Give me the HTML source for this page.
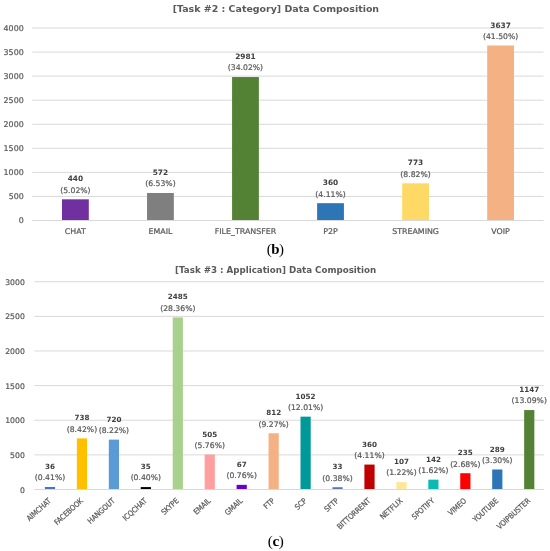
<!DOCTYPE html>
<html><head><meta charset="utf-8"><title>Data Composition</title>
<style>
html,body{margin:0;padding:0;background:#fff;}
svg{display:block;font-family:"DejaVu Sans","Liberation Sans",sans-serif;}
.ser{font-family:"Liberation Serif",serif;}
.cond{font-family:"DejaVu Sans Condensed","DejaVu Sans","Liberation Sans",sans-serif;}
</style></head><body>
<svg width="550" height="551" viewBox="0 0 550 551">
<rect width="550" height="551" fill="#fff"/>
<text x="275.90" y="11.90" font-size="9.45" text-anchor="middle" fill="#595959" font-weight="bold">[Task #2 : Category] Data Composition</text>
<line x1="32.3" x2="543.6" y1="220.50" y2="220.50" stroke="#d9d9d9" stroke-width="1"/>
<text x="23.70" y="223.40" font-size="7.9" text-anchor="end" fill="#595959" stroke="#595959" stroke-width="0.22">0</text>
<line x1="32.3" x2="543.6" y1="196.44" y2="196.44" stroke="#d9d9d9" stroke-width="1"/>
<text x="23.70" y="199.34" font-size="7.9" text-anchor="end" fill="#595959" stroke="#595959" stroke-width="0.22">500</text>
<line x1="32.3" x2="543.6" y1="172.38" y2="172.38" stroke="#d9d9d9" stroke-width="1"/>
<text x="23.70" y="175.28" font-size="7.9" text-anchor="end" fill="#595959" stroke="#595959" stroke-width="0.22">1000</text>
<line x1="32.3" x2="543.6" y1="148.32" y2="148.32" stroke="#d9d9d9" stroke-width="1"/>
<text x="23.70" y="151.22" font-size="7.9" text-anchor="end" fill="#595959" stroke="#595959" stroke-width="0.22">1500</text>
<line x1="32.3" x2="543.6" y1="124.26" y2="124.26" stroke="#d9d9d9" stroke-width="1"/>
<text x="23.70" y="127.16" font-size="7.9" text-anchor="end" fill="#595959" stroke="#595959" stroke-width="0.22">2000</text>
<line x1="32.3" x2="543.6" y1="100.20" y2="100.20" stroke="#d9d9d9" stroke-width="1"/>
<text x="23.70" y="103.10" font-size="7.9" text-anchor="end" fill="#595959" stroke="#595959" stroke-width="0.22">2500</text>
<line x1="32.3" x2="543.6" y1="76.14" y2="76.14" stroke="#d9d9d9" stroke-width="1"/>
<text x="23.70" y="79.04" font-size="7.9" text-anchor="end" fill="#595959" stroke="#595959" stroke-width="0.22">3000</text>
<line x1="32.3" x2="543.6" y1="52.08" y2="52.08" stroke="#d9d9d9" stroke-width="1"/>
<text x="23.70" y="54.98" font-size="7.9" text-anchor="end" fill="#595959" stroke="#595959" stroke-width="0.22">3500</text>
<line x1="32.3" x2="543.6" y1="28.02" y2="28.02" stroke="#d9d9d9" stroke-width="1"/>
<text x="23.70" y="30.92" font-size="7.9" text-anchor="end" fill="#595959" stroke="#595959" stroke-width="0.22">4000</text>
<rect x="62.00" y="199.33" width="26.8" height="20.67" fill="#7030A0"/>
<text x="75.40" y="181.43" font-size="7.4" text-anchor="middle" fill="#404040" font-weight="bold">440</text>
<text x="75.40" y="192.73" font-size="7.7" text-anchor="middle" fill="#595959" stroke="#595959" stroke-width="0.22">(5.02%)</text>
<text x="75.40" y="234.40" font-size="7.9" text-anchor="middle" fill="#595959" stroke="#595959" stroke-width="0.22">CHAT</text>
<rect x="147.04" y="192.98" width="26.8" height="27.02" fill="#7F7F7F"/>
<text x="160.44" y="175.08" font-size="7.4" text-anchor="middle" fill="#404040" font-weight="bold">572</text>
<text x="160.44" y="186.38" font-size="7.7" text-anchor="middle" fill="#595959" stroke="#595959" stroke-width="0.22">(6.53%)</text>
<text x="160.44" y="234.40" font-size="7.9" text-anchor="middle" fill="#595959" stroke="#595959" stroke-width="0.22">EMAIL</text>
<rect x="232.08" y="77.05" width="26.8" height="142.95" fill="#548235"/>
<text x="245.48" y="59.15" font-size="7.4" text-anchor="middle" fill="#404040" font-weight="bold">2981</text>
<text x="245.48" y="70.45" font-size="7.7" text-anchor="middle" fill="#595959" stroke="#595959" stroke-width="0.22">(34.02%)</text>
<text x="245.48" y="234.40" font-size="7.9" text-anchor="middle" fill="#595959" stroke="#595959" stroke-width="0.22">FILE_TRANSFER</text>
<rect x="317.12" y="203.18" width="26.8" height="16.82" fill="#2E75B6"/>
<text x="330.52" y="185.28" font-size="7.4" text-anchor="middle" fill="#404040" font-weight="bold">360</text>
<text x="330.52" y="196.58" font-size="7.7" text-anchor="middle" fill="#595959" stroke="#595959" stroke-width="0.22">(4.11%)</text>
<text x="330.52" y="234.40" font-size="7.9" text-anchor="middle" fill="#595959" stroke="#595959" stroke-width="0.22">P2P</text>
<rect x="402.16" y="183.30" width="26.8" height="36.70" fill="#FFD966"/>
<text x="415.56" y="165.40" font-size="7.4" text-anchor="middle" fill="#404040" font-weight="bold">773</text>
<text x="415.56" y="176.70" font-size="7.7" text-anchor="middle" fill="#595959" stroke="#595959" stroke-width="0.22">(8.82%)</text>
<text x="415.56" y="234.40" font-size="7.9" text-anchor="middle" fill="#595959" stroke="#595959" stroke-width="0.22">STREAMING</text>
<rect x="487.20" y="45.49" width="26.8" height="174.51" fill="#F4B183"/>
<text x="500.60" y="27.59" font-size="7.4" text-anchor="middle" fill="#404040" font-weight="bold">3637</text>
<text x="500.60" y="38.89" font-size="7.7" text-anchor="middle" fill="#595959" stroke="#595959" stroke-width="0.22">(41.50%)</text>
<text x="500.60" y="234.40" font-size="7.9" text-anchor="middle" fill="#595959" stroke="#595959" stroke-width="0.22">VOIP</text>
<text x="275.20" y="254.30" font-size="14.9" text-anchor="middle" fill="#000" class="ser" letter-spacing="-0.5">(<tspan font-weight="bold">b</tspan>)</text>
<text x="275.60" y="272.50" font-size="8.7" text-anchor="middle" fill="#595959" font-weight="bold">[Task #3 : Application] Data Composition</text>
<line x1="34.3" x2="544.1" y1="489.50" y2="489.50" stroke="#d9d9d9" stroke-width="1"/>
<text x="24.80" y="492.60" font-size="7.7" text-anchor="end" fill="#595959" stroke="#595959" stroke-width="0.22">0</text>
<line x1="34.3" x2="544.1" y1="454.87" y2="454.87" stroke="#d9d9d9" stroke-width="1"/>
<text x="24.80" y="457.97" font-size="7.7" text-anchor="end" fill="#595959" stroke="#595959" stroke-width="0.22">500</text>
<line x1="34.3" x2="544.1" y1="420.24" y2="420.24" stroke="#d9d9d9" stroke-width="1"/>
<text x="24.80" y="423.34" font-size="7.7" text-anchor="end" fill="#595959" stroke="#595959" stroke-width="0.22">1000</text>
<line x1="34.3" x2="544.1" y1="385.61" y2="385.61" stroke="#d9d9d9" stroke-width="1"/>
<text x="24.80" y="388.71" font-size="7.7" text-anchor="end" fill="#595959" stroke="#595959" stroke-width="0.22">1500</text>
<line x1="34.3" x2="544.1" y1="350.98" y2="350.98" stroke="#d9d9d9" stroke-width="1"/>
<text x="24.80" y="354.08" font-size="7.7" text-anchor="end" fill="#595959" stroke="#595959" stroke-width="0.22">2000</text>
<line x1="34.3" x2="544.1" y1="316.35" y2="316.35" stroke="#d9d9d9" stroke-width="1"/>
<text x="24.80" y="319.45" font-size="7.7" text-anchor="end" fill="#595959" stroke="#595959" stroke-width="0.22">2500</text>
<line x1="34.3" x2="544.1" y1="281.72" y2="281.72" stroke="#d9d9d9" stroke-width="1"/>
<text x="24.80" y="284.82" font-size="7.7" text-anchor="end" fill="#595959" stroke="#595959" stroke-width="0.22">3000</text>
<rect x="44.90" y="487.01" width="10.2" height="1.99" fill="#4472C4"/>
<text x="50.00" y="469.11" font-size="7.2" text-anchor="middle" fill="#404040" font-weight="bold">36</text>
<text x="50.00" y="480.41" font-size="7.7" text-anchor="middle" fill="#595959" stroke="#595959" stroke-width="0.22">(0.41%)</text>
<text x="0.00" y="0.00" font-size="7.7" text-anchor="end" fill="#595959" stroke="#595959" stroke-width="0.22" class="cond" transform="translate(51.60,501.50) rotate(-42.3) scale(0.96,1)">AIMCHAT</text>
<rect x="76.85" y="438.39" width="10.2" height="50.61" fill="#FFC000"/>
<text x="81.95" y="420.49" font-size="7.2" text-anchor="middle" fill="#404040" font-weight="bold">738</text>
<text x="81.95" y="431.79" font-size="7.7" text-anchor="middle" fill="#595959" stroke="#595959" stroke-width="0.22">(8.42%)</text>
<text x="0.00" y="0.00" font-size="7.7" text-anchor="end" fill="#595959" stroke="#595959" stroke-width="0.22" class="cond" transform="translate(83.55,501.50) rotate(-42.3) scale(0.96,1)">FACEBOOK</text>
<rect x="108.80" y="439.63" width="10.2" height="49.37" fill="#5B9BD5"/>
<text x="113.90" y="421.73" font-size="7.2" text-anchor="middle" fill="#404040" font-weight="bold">720</text>
<text x="113.90" y="433.03" font-size="7.7" text-anchor="middle" fill="#595959" stroke="#595959" stroke-width="0.22">(8.22%)</text>
<text x="0.00" y="0.00" font-size="7.7" text-anchor="end" fill="#595959" stroke="#595959" stroke-width="0.22" class="cond" transform="translate(115.50,501.50) rotate(-42.3) scale(0.96,1)">HANGOUT</text>
<rect x="140.75" y="487.08" width="10.2" height="1.92" fill="#000000"/>
<text x="145.85" y="469.18" font-size="7.2" text-anchor="middle" fill="#404040" font-weight="bold">35</text>
<text x="145.85" y="480.48" font-size="7.7" text-anchor="middle" fill="#595959" stroke="#595959" stroke-width="0.22">(0.40%)</text>
<text x="0.00" y="0.00" font-size="7.7" text-anchor="end" fill="#595959" stroke="#595959" stroke-width="0.22" class="cond" transform="translate(147.45,501.50) rotate(-42.3) scale(0.96,1)">ICQCHAT</text>
<rect x="172.70" y="317.39" width="10.2" height="171.61" fill="#A9D18E"/>
<text x="177.80" y="299.49" font-size="7.2" text-anchor="middle" fill="#404040" font-weight="bold">2485</text>
<text x="177.80" y="310.79" font-size="7.7" text-anchor="middle" fill="#595959" stroke="#595959" stroke-width="0.22">(28.36%)</text>
<text x="0.00" y="0.00" font-size="7.7" text-anchor="end" fill="#595959" stroke="#595959" stroke-width="0.22" class="cond" transform="translate(179.40,501.50) rotate(-42.3) scale(0.96,1)">SKYPE</text>
<rect x="204.65" y="454.52" width="10.2" height="34.48" fill="#FF9F9F"/>
<text x="209.75" y="436.62" font-size="7.2" text-anchor="middle" fill="#404040" font-weight="bold">505</text>
<text x="209.75" y="447.92" font-size="7.7" text-anchor="middle" fill="#595959" stroke="#595959" stroke-width="0.22">(5.76%)</text>
<text x="0.00" y="0.00" font-size="7.7" text-anchor="end" fill="#595959" stroke="#595959" stroke-width="0.22" class="cond" transform="translate(211.35,501.50) rotate(-42.3) scale(0.96,1)">EMAIL</text>
<rect x="236.60" y="484.86" width="10.2" height="4.14" fill="#6600CC"/>
<text x="241.70" y="466.96" font-size="7.2" text-anchor="middle" fill="#404040" font-weight="bold">67</text>
<text x="241.70" y="478.26" font-size="7.7" text-anchor="middle" fill="#595959" stroke="#595959" stroke-width="0.22">(0.76%)</text>
<text x="0.00" y="0.00" font-size="7.7" text-anchor="end" fill="#595959" stroke="#595959" stroke-width="0.22" class="cond" transform="translate(243.30,501.50) rotate(-42.3) scale(0.96,1)">GMAIL</text>
<rect x="268.55" y="433.26" width="10.2" height="55.74" fill="#F4B183"/>
<text x="273.65" y="415.36" font-size="7.2" text-anchor="middle" fill="#404040" font-weight="bold">812</text>
<text x="273.65" y="426.66" font-size="7.7" text-anchor="middle" fill="#595959" stroke="#595959" stroke-width="0.22">(9.27%)</text>
<text x="0.00" y="0.00" font-size="7.7" text-anchor="end" fill="#595959" stroke="#595959" stroke-width="0.22" class="cond" transform="translate(275.25,501.50) rotate(-42.3) scale(0.96,1)">FTP</text>
<rect x="300.50" y="416.64" width="10.2" height="72.36" fill="#009999"/>
<text x="305.60" y="398.74" font-size="7.2" text-anchor="middle" fill="#404040" font-weight="bold">1052</text>
<text x="305.60" y="410.04" font-size="7.7" text-anchor="middle" fill="#595959" stroke="#595959" stroke-width="0.22">(12.01%)</text>
<text x="0.00" y="0.00" font-size="7.7" text-anchor="end" fill="#595959" stroke="#595959" stroke-width="0.22" class="cond" transform="translate(307.20,501.50) rotate(-42.3) scale(0.96,1)">SCP</text>
<rect x="332.45" y="487.21" width="10.2" height="1.79" fill="#5A78B0"/>
<text x="337.55" y="469.31" font-size="7.2" text-anchor="middle" fill="#404040" font-weight="bold">33</text>
<text x="337.55" y="480.61" font-size="7.7" text-anchor="middle" fill="#595959" stroke="#595959" stroke-width="0.22">(0.38%)</text>
<text x="0.00" y="0.00" font-size="7.7" text-anchor="end" fill="#595959" stroke="#595959" stroke-width="0.22" class="cond" transform="translate(339.15,501.50) rotate(-42.3) scale(0.96,1)">SFTP</text>
<rect x="364.40" y="464.57" width="10.2" height="24.43" fill="#C00000"/>
<text x="369.50" y="446.67" font-size="7.2" text-anchor="middle" fill="#404040" font-weight="bold">360</text>
<text x="369.50" y="457.97" font-size="7.7" text-anchor="middle" fill="#595959" stroke="#595959" stroke-width="0.22">(4.11%)</text>
<text x="0.00" y="0.00" font-size="7.7" text-anchor="end" fill="#595959" stroke="#595959" stroke-width="0.22" class="cond" transform="translate(371.10,501.50) rotate(-42.3) scale(0.96,1)">BITTORRENT</text>
<rect x="396.35" y="482.09" width="10.2" height="6.91" fill="#FFE699"/>
<text x="401.45" y="464.19" font-size="7.2" text-anchor="middle" fill="#404040" font-weight="bold">107</text>
<text x="401.45" y="475.49" font-size="7.7" text-anchor="middle" fill="#595959" stroke="#595959" stroke-width="0.22">(1.22%)</text>
<text x="0.00" y="0.00" font-size="7.7" text-anchor="end" fill="#595959" stroke="#595959" stroke-width="0.22" class="cond" transform="translate(403.05,501.50) rotate(-42.3) scale(0.96,1)">NETFLIX</text>
<rect x="428.30" y="479.67" width="10.2" height="9.33" fill="#0CBAB4"/>
<text x="433.40" y="461.77" font-size="7.2" text-anchor="middle" fill="#404040" font-weight="bold">142</text>
<text x="433.40" y="473.07" font-size="7.7" text-anchor="middle" fill="#595959" stroke="#595959" stroke-width="0.22">(1.62%)</text>
<text x="0.00" y="0.00" font-size="7.7" text-anchor="end" fill="#595959" stroke="#595959" stroke-width="0.22" class="cond" transform="translate(435.00,501.50) rotate(-42.3) scale(0.96,1)">SPOTIFY</text>
<rect x="460.25" y="473.22" width="10.2" height="15.78" fill="#FF0000"/>
<text x="465.35" y="455.32" font-size="7.2" text-anchor="middle" fill="#404040" font-weight="bold">235</text>
<text x="465.35" y="466.62" font-size="7.7" text-anchor="middle" fill="#595959" stroke="#595959" stroke-width="0.22">(2.68%)</text>
<text x="0.00" y="0.00" font-size="7.7" text-anchor="end" fill="#595959" stroke="#595959" stroke-width="0.22" class="cond" transform="translate(466.95,501.50) rotate(-42.3) scale(0.96,1)">VIMEO</text>
<rect x="492.20" y="469.48" width="10.2" height="19.52" fill="#2E75B6"/>
<text x="497.30" y="451.58" font-size="7.2" text-anchor="middle" fill="#404040" font-weight="bold">289</text>
<text x="497.30" y="462.88" font-size="7.7" text-anchor="middle" fill="#595959" stroke="#595959" stroke-width="0.22">(3.30%)</text>
<text x="0.00" y="0.00" font-size="7.7" text-anchor="end" fill="#595959" stroke="#595959" stroke-width="0.22" class="cond" transform="translate(498.90,501.50) rotate(-42.3) scale(0.96,1)">YOUTUBE</text>
<rect x="524.15" y="410.06" width="10.2" height="78.94" fill="#548235"/>
<text x="529.25" y="392.16" font-size="7.2" text-anchor="middle" fill="#404040" font-weight="bold">1147</text>
<text x="529.25" y="403.46" font-size="7.7" text-anchor="middle" fill="#595959" stroke="#595959" stroke-width="0.22">(13.09%)</text>
<text x="0.00" y="0.00" font-size="7.7" text-anchor="end" fill="#595959" stroke="#595959" stroke-width="0.22" class="cond" transform="translate(530.85,501.50) rotate(-42.3) scale(0.96,1)">VOIPBUSTER</text>
<text x="275.50" y="545.60" font-size="15.2" text-anchor="middle" fill="#000" class="ser" letter-spacing="-0.5">(<tspan font-weight="bold">c</tspan>)</text>
</svg>
</body></html>
